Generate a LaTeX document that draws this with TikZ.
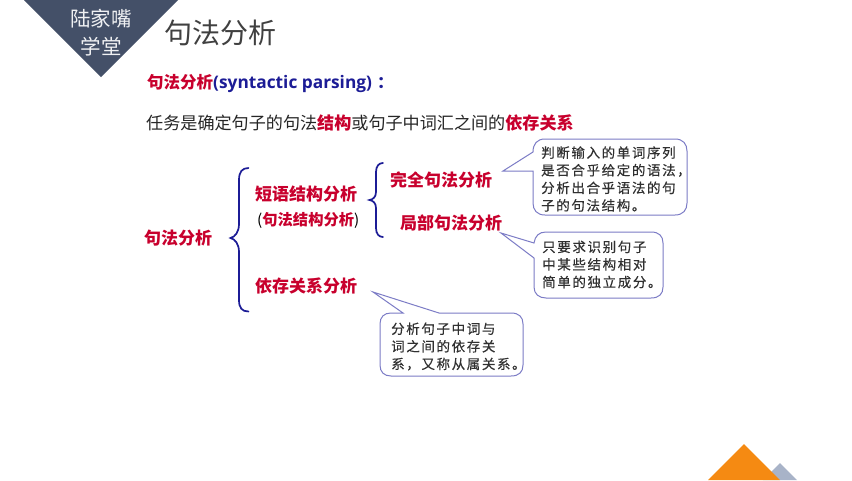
\documentclass[tikz,border=0pt]{standalone}
\usepackage{fontspec}
\setmainfont{Noto Sans CJK SC}
\newfontfamily\cjkfont{Noto Sans CJK SC}
\newfontfamily\spacedfont[LetterSpace=12,FakeBold=0.35]{Noto Sans CJK SC}
\newfontfamily\latinfont{Open Sans}
\definecolor{slatedark}{HTML}{445068}
\definecolor{titlegray}{HTML}{404040}
\definecolor{keyred}{HTML}{C8002D}
\definecolor{navyblue}{HTML}{1C1C96}
\definecolor{calloutline}{HTML}{7C7CC6}
\definecolor{calloutink}{HTML}{303030}
\definecolor{mountorange}{HTML}{F58A12}
\definecolor{mountgray}{HTML}{A8B3C8}
\tikzset{
  txt/.style={inner sep=0pt,anchor=west,align=left},
  keyword/.style={txt,text=keyred,font=\fontsize{17}{20}\selectfont\bfseries},
  bracepath/.style={draw=navyblue,line width=1.7pt,line cap=round},
  calloutbox/.style={draw=calloutline,line width=1pt,fill=white,line join=miter},
  callouttext/.style={txt,text=calloutink,font=\spacedfont\fontsize{13.5}{17.6}\selectfont},
}
\begin{document}
\begin{tikzpicture}[x=1pt,y=-1pt]
\useasboundingbox (0,0) rectangle (852,480);
\fill[white] (0,0) rectangle (852,480);
% corner banner
\fill[slatedark] (24,0) -- (178,0) -- (101,77) -- cycle;
\node[inner sep=0pt,text=white!92!slatedark,font=\fontsize{20.5}{24}\selectfont] (brandA) at (101,18.5) {陆家嘴};
\node[inner sep=0pt,text=white!92!slatedark,font=\fontsize{20.5}{24}\selectfont] (brandB) at (101,47) {学堂};
\node[txt,text=titlegray,font=\fontsize{28}{32}\selectfont] (title) at (164,33) {句法分析};
% heading lines
\node[txt,font=\fontsize{16.5}{20}\selectfont\bfseries] (head) at (147,84) {\textcolor{keyred}{句法分析}\textcolor{navyblue}{{\latinfont\fontsize{17.3}{20}\selectfont (syntactic parsing)}\hspace{5pt}：}};
\node[txt,text=black!85,font=\fontsize{17.1}{20}\selectfont] (task) at (146,123) {任务是确定句子的句法\textcolor{keyred}{\bfseries 结构}或句子中词汇之间的\textcolor{keyred}{\bfseries 依存关系}};
% tree labels
\node[keyword] (root) at (144,238) {句法分析};
\node[keyword] (phrase) at (255,194) {短语结构分析};
\node[txt,font=\fontsize{15.3}{18}\selectfont\bfseries,text=keyred] (phrase2) at (257,220) {\textcolor{black}{\mdseries (}句法结构分析\textcolor{black}{\mdseries )}};
\node[keyword] (dep) at (255,286) {依存关系分析};
\node[keyword] (full) at (390,180) {完全句法分析};
\node[keyword] (part) at (400,223) {局部句法分析};
% braces
\draw[bracepath] (248.5,168) .. controls (242,168) and (239,172) .. (239,180) -- (239,224) .. controls (239,232) and (235,237) .. (230.5,238) .. controls (235,239) and (239,244) .. (239,252) -- (239,300) .. controls (239,308) and (242,311.5) .. (248.5,311.5);
\draw[bracepath] (383,163) .. controls (379,163) and (376,166) .. (376,172) -- (376,192) .. controls (376,197) and (373,199.5) .. (369.5,200) .. controls (373,200.5) and (376,203) .. (376,208) -- (376,228) .. controls (376,234) and (379,237) .. (383,237);
% callouts: sharp pointer, rounded box corners drawn as curves
\path[calloutbox] (503,171) -- (533,152) .. controls (533,144) and (537,139) .. (545,139) -- (675,139) .. controls (683,139) and (687,144) .. (687,151) -- (687,203) .. controls (687,210) and (683,215) .. (675,215) -- (545,215) .. controls (537,215) and (533,210) .. (533,203) -- (533,171) -- cycle;
\node[callouttext] (noteA) at (541,179) {判断输入的单词序列\\是否合乎给定的语法，\\分析出合乎语法的句\\子的句法结构。};
\path[calloutbox] (501,233) -- (534,243) .. controls (535,236) and (539,232) .. (546,232) -- (651,232) .. controls (659,232) and (663,236) .. (663,243) -- (663,287) .. controls (663,294) and (659,298) .. (651,298) -- (546,298) .. controls (539,298) and (534,294) .. (534,287) -- (534,258) -- cycle;
\node[callouttext] (noteB) at (542,264.5) {只要求识别句子\\中某些结构相对\\简单的独立成分。};
\path[calloutbox] (373,292) -- (439,313) -- (511,313) .. controls (519,313) and (523,317) .. (523,324) -- (523,365) .. controls (523,372) and (519,376) .. (511,376) -- (391,376) .. controls (384,376) and (380,372) .. (380,365) -- (380,324) .. controls (380,317) and (384,313) .. (391,313) -- (403,313) -- cycle;
\node[callouttext] (noteC) at (391,346.5) {分析句子中词与\\词之间的依存关\\系，又称从属关系。};
% corner mountains
\fill[mountgray] (780,463) -- (797,480) -- (763,480) -- cycle;
\fill[mountorange] (744,444) -- (780,480) -- (708,480) -- cycle;
\end{tikzpicture}
\end{document}
